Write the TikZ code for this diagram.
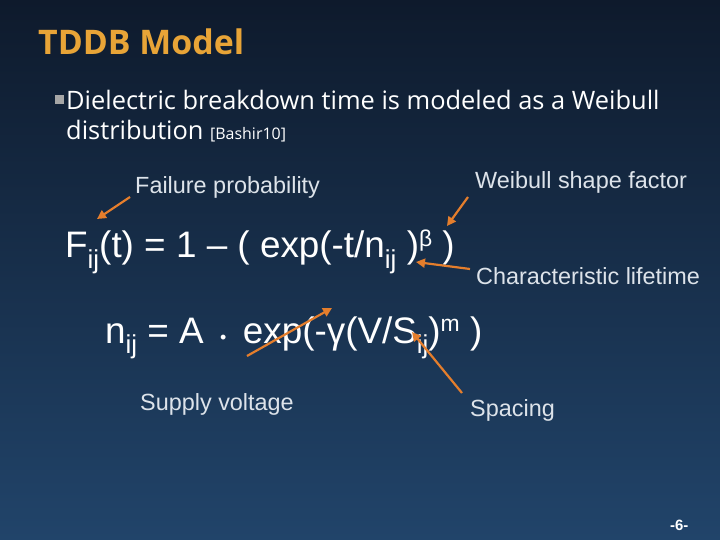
\documentclass[tikz,border=0pt]{standalone}
\usepackage{fontspec}
\setmainfont{Liberation Sans}
\newfontfamily\osans{Open Sans}
\usetikzlibrary{arrows.meta}
\definecolor{bgtop}{HTML}{0E1A2C}
\definecolor{bgbot}{HTML}{21446A}
\definecolor{gold}{HTML}{E8A437}
\definecolor{arr}{HTML}{E57E2C}
\definecolor{lbl}{HTML}{DDE3EA}
\newcommand{\lsub}[1]{\raisebox{-0.28em}{\fontsize{26}{28}\selectfont #1}}
\newcommand{\lsup}[1]{\raisebox{0.3em}{\fontsize{23}{26}\selectfont #1}}
\tikzset{lab/.style={text=lbl,font=\fontsize{23.5}{26}\selectfont,anchor=base west,inner sep=0},
 fml/.style={text=white,font=\fontsize{37}{42}\selectfont,anchor=base west,inner sep=0},
 pointer/.style={draw=arr,line width=2.2pt,-{Triangle[length=9pt,width=9pt]}}}
\begin{document}
\begin{tikzpicture}[x=1bp,y=-1bp]
\shade[top color=bgtop,bottom color=bgbot] (0,0) rectangle (720,540);
\useasboundingbox (0,0) rectangle (720,540);
\node[anchor=base west,inner sep=0,text=gold,font=\osans\bfseries\fontsize{34}{38}\selectfont] (title) at (38,55) {TDDB Model};
\fill[gray!70] (55,95) rectangle (64,104) coordinate (bul);
\node[anchor=base west,inner sep=0,text=white,font=\osans\fontsize{25.5}{29}\selectfont,align=left] (b1) at (66,110) {Dielectric breakdown time is modeled as a Weibull};
\node[anchor=base west,inner sep=0,text=white,font=\osans\fontsize{25.5}{29}\selectfont] (b2) at (66,140) {distribution {\fontsize{16}{18}\selectfont [Bashir10]}};
\node[lab] (fp) at (135,194) {Failure probability};
\node[lab] (ws) at (475,189) {Weibull shape factor};
\node[lab] (cl) at (476,285) {Characteristic lifetime};
\node[lab] (sv) at (140,410) {Supply voltage};
\node[lab] (sp) at (470,416) {Spacing};
\node[fml] (f1) at (65,258) {F\lsub{ij}(t) = 1 – ( exp(-t/n\lsub{ij} )\lsup{β} )};
\node[fml] (f2) at (105,343) {n\lsub{ij} = A \,{\fontsize{18}{20}\selectfont •}\, exp(-γ(V/S\lsub{ij})\lsup{m} )};
\node[anchor=base west,inner sep=0,text=white,font=\bfseries\fontsize{15}{17}\selectfont] (pg) at (670,530) {-6-};
\coordinate (a1s) at (130,197); \coordinate (a1e) at (97,219);
\coordinate (a2s) at (468,197); \coordinate (a2e) at (447,226);
\coordinate (a3s) at (470,269); \coordinate (a3e) at (416,262);
\coordinate (a4s) at (247,356); \coordinate (a4e) at (332,308);
\coordinate (a5s) at (462,393); \coordinate (a5e) at (412,332);
\foreach \n in {1,...,5} \draw[pointer] (a\n s) -- (a\n e);
\end{tikzpicture}
\end{document}
